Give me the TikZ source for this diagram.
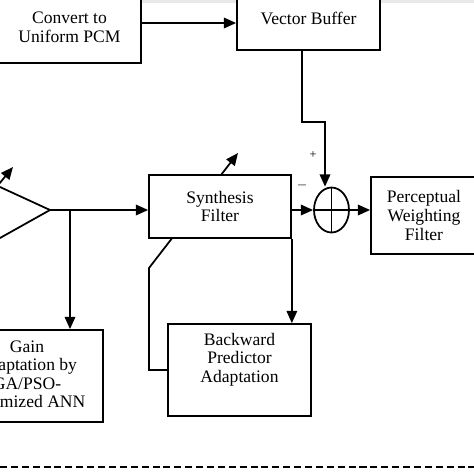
\documentclass[tikz,border=0pt]{standalone}
\usepackage{fontspec}
\setmainfont{Liberation Serif}
\usetikzlibrary{arrows.meta,shapes.geometric}
\begin{document}
\begin{tikzpicture}[x=0.02cm, y=-0.02cm, line width=1pt,
    font=\fontsize{10}{10.6}\selectfont,
    block/.style={draw, fill=white, align=center, inner sep=0pt},
    arr/.style={-{Triangle[length=7pt,width=6pt]}},
    sign/.style={font=\scriptsize, inner sep=0pt}]
  \useasboundingbox (0,0) rectangle (474,474);
  \fill[gray!18] (0,0) rectangle (474,2.5); % band at the top

  % lower blocks first, the feedback runs under the synthesis filter
  \node[block, minimum width=2.86cm, minimum height=1.84cm] (bpa) at (239.5,370) {Backward\\Predictor\\Adaptation\\\strut};
  \coordinate (fbcorner) at (149,268);
  \coordinate (fbtip) at (238,153);
  \draw[arr] (bpa.west) -| (fbcorner) -- (fbtip);
  \coordinate (ampknob) at (13,167);
  \draw[arr] (-20,207) -- (ampknob);

  % blocks
  \node[block, minimum width=2.86cm, minimum height=1.42cm] (conv) at (69.5,27.5) {Convert to\\Uniform PCM};
  \node[block, minimum width=2.86cm, minimum height=1.28cm] (vb) at (308.5,18) {Vector Buffer};
  \node[block, minimum width=2.84cm, minimum height=1.26cm] (synth) at (220,206.5) {Synthesis\\Filter};
  \node[block, minimum width=2.12cm, minimum height=1.54cm] (pwf) at (424,215.5) {Perceptual\\Weighting\\Filter};
  \node[block, minimum width=3.04cm, minimum height=1.84cm] (gain) at (27,376) {Gain\\Adaptation by\\GA/PSO-\\Optimized ANN};
  \node[draw, fill=white, ellipse, minimum width=0.7cm, minimum height=0.9cm, inner sep=0pt] (sum) at (331.5,210) {};
  \draw (sum.north) -- (sum.south);
  \draw (sum.west) -- (sum.east);

  % gain stage
  \coordinate (ampout) at (50,210);
  \filldraw[fill=white] (-20,177.8) -- (ampout) -- (-20,249.2);

  % connectors
  \coordinate (vbturn) at (325,122);
  \coordinate (gbranch) at (70,210);
  \draw[arr] ([yshift=0.09cm]conv.east) -- ([yshift=0.09cm]conv.east -| vb.west);
  \draw[arr] ([xshift=-0.13cm]vb.south) |- (vbturn) -- (vbturn |- sum.north);
  \draw[arr] (ampout) -- (ampout -| synth.west);
  \draw[arr] (gbranch) -- (gbranch |- gain.north);
  \draw[arr] (synth.east |- sum.west) -- (sum.west);
  \draw[arr] (sum.east) -- (sum.east -| pwf.west);
  \draw[arr] (synth.south east) -- (synth.south east |- bpa.north);
  \node[sign] (plus) at (313,155) {+};
  \node[sign] (minus) at (302,185) {$-$};

  \draw[line width=1.4pt, dash pattern=on 4pt off 2.2pt] (0,467) -- (474,467); % dashed border
\end{tikzpicture}
\end{document}
